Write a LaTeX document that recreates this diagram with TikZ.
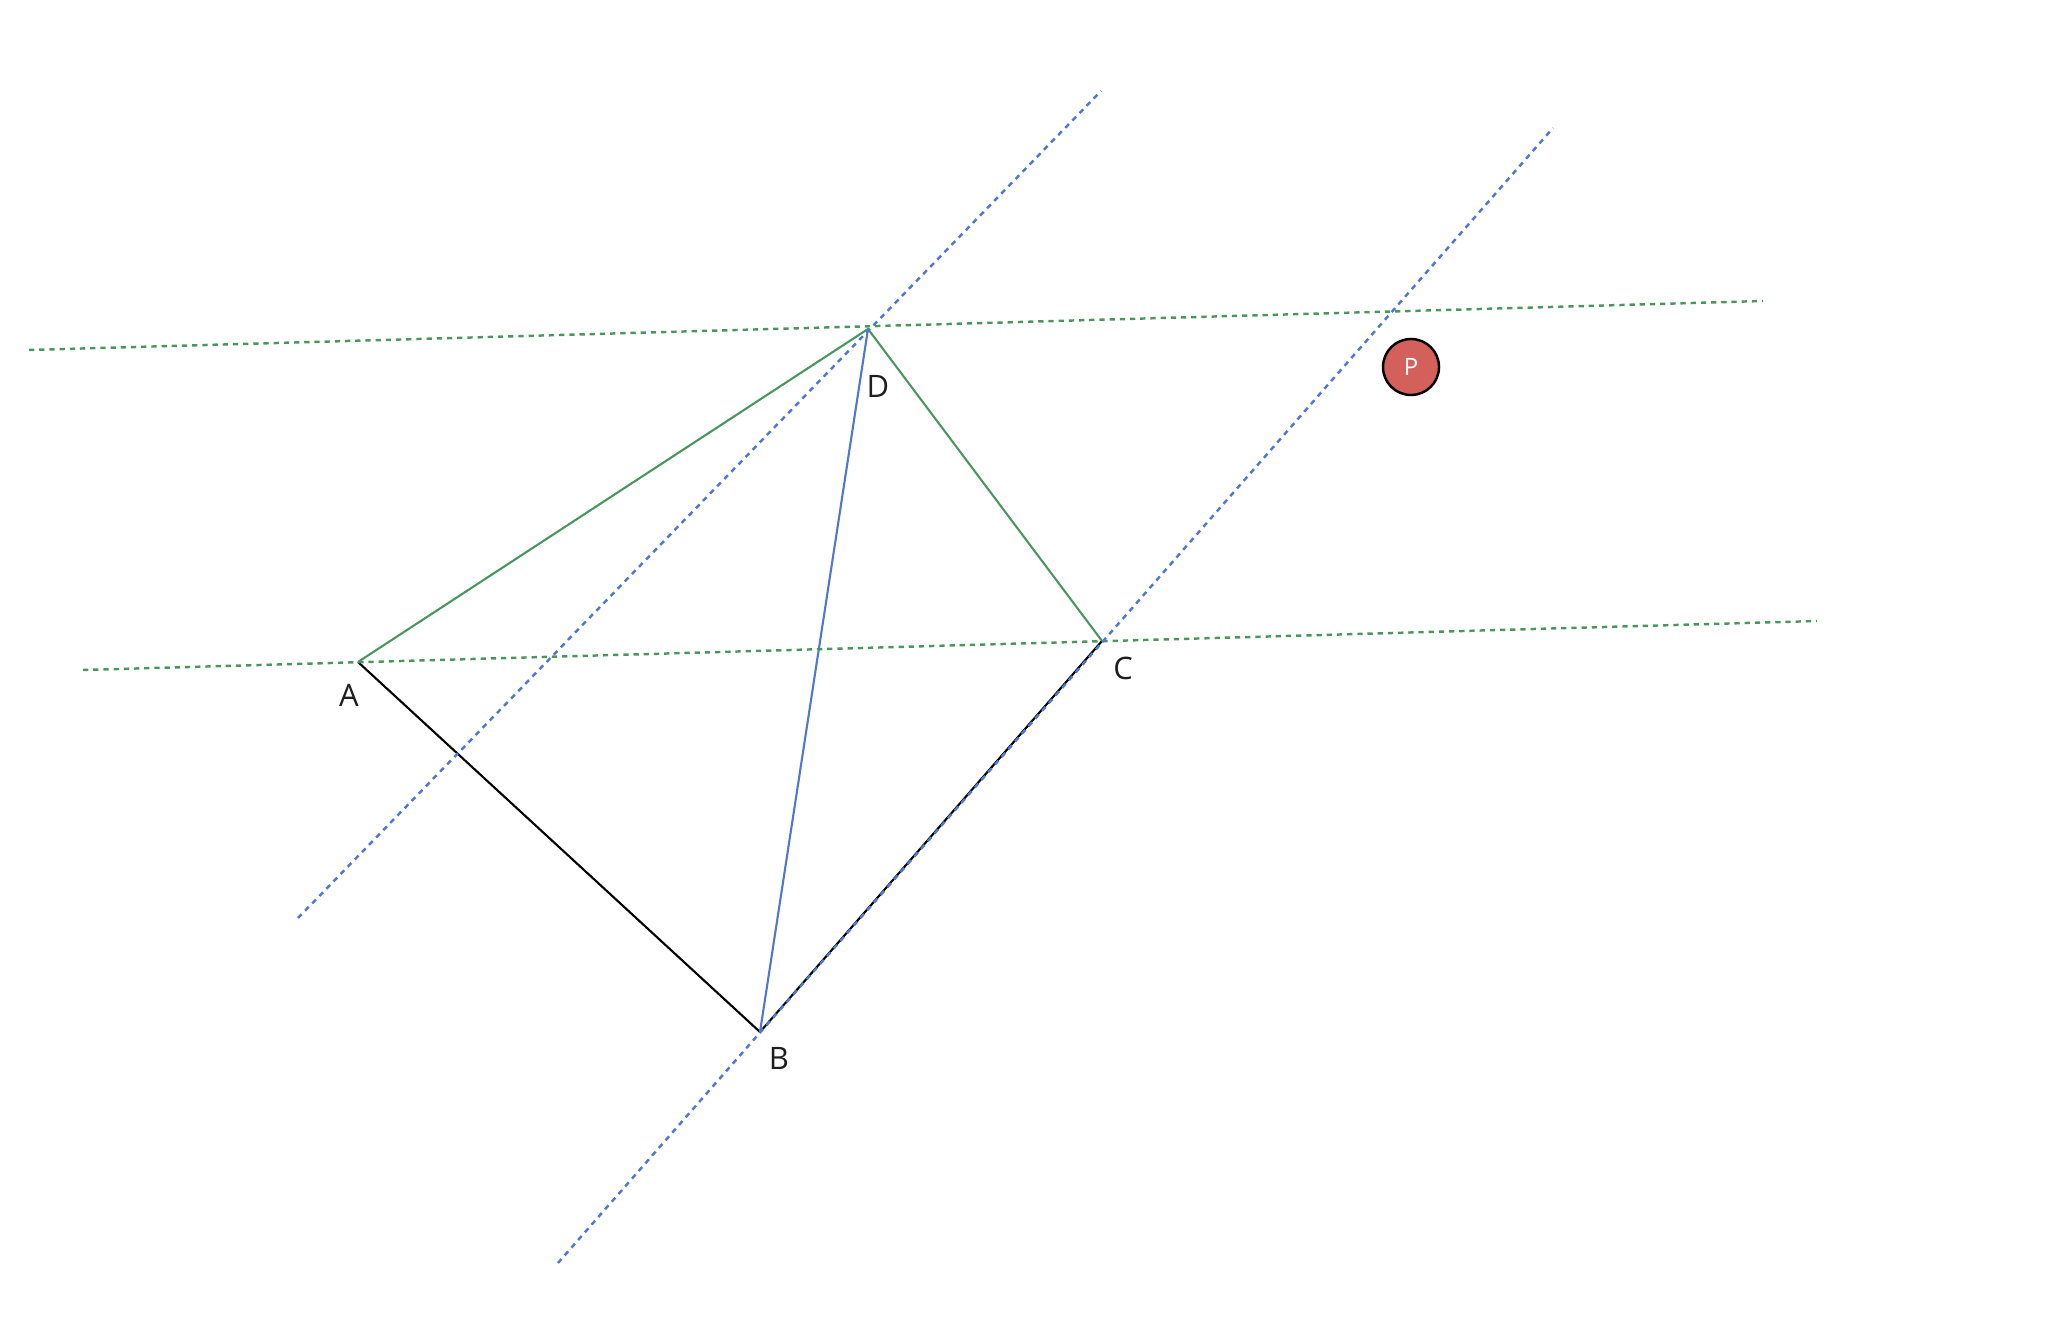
\documentclass[tikz,border=0pt]{standalone}
\usepackage{fontspec}
\setmainfont{Open Sans}
\definecolor{lgreen}{RGB}{75,150,95}
\definecolor{lblue}{RGB}{80,120,210}
\definecolor{pred}{RGB}{212,96,92}
\definecolor{ltext}{RGB}{30,30,30}
\begin{document}
\begin{tikzpicture}[x=0.01cm,y=-0.01cm,
  guide/.style={line width=0.7pt,dash pattern=on 1.5pt off 1.4pt},
  gguide/.style={guide,draw=lgreen},
  bguide/.style={guide,draw=lblue},
  edge/.style={line width=0.6pt},
  lbl/.style={font=\fontsize{8.8pt}{10pt}\selectfont,text=ltext,inner sep=0pt},
  pt/.style={circle,draw=black,line width=0.7pt,fill=pred,minimum size=0.56cm,inner sep=0pt,text=white,font=\fontsize{6.8pt}{8pt}\selectfont}]
\useasboundingbox (0,0) rectangle (2048,1325);
% vertices
\coordinate (A) at (358,662);
\coordinate (B) at (760,1032);
\coordinate (C) at (1102,641);
\coordinate (D) at (868,329);
% guide end points
\coordinate (g1a) at (29,350);
\coordinate (g1b) at (1763,301);
\coordinate (g2a) at (83,670);
\coordinate (g2b) at (1817,621);
\coordinate (b1a) at (298,918);
\coordinate (b1b) at (1101,91);
\coordinate (b2a) at (558,1263);
\coordinate (b2b) at (1553,128);
% solid edges
\draw[edge,black] (A) -- (B) -- (C);
\draw[edge,lgreen] (A) -- (D) -- (C);
\draw[edge,lblue] (D) -- (B);
% guides
\draw[gguide] (g1a) -- (g1b);
\draw[gguide] (g2a) -- (g2b);
\draw[bguide] (b1a) -- (b1b);
\draw[bguide] (b2a) -- (b2b);
% labels
\node[lbl] (lA) at (349,695) {A};
\node[lbl] (lB) at (779,1058) {B};
\node[lbl] (lC) at (1123,668) {C};
\node[lbl] (lD) at (878,386) {D};
\node[pt] (P) at (1411,367) {P};
\end{tikzpicture}
\end{document}
